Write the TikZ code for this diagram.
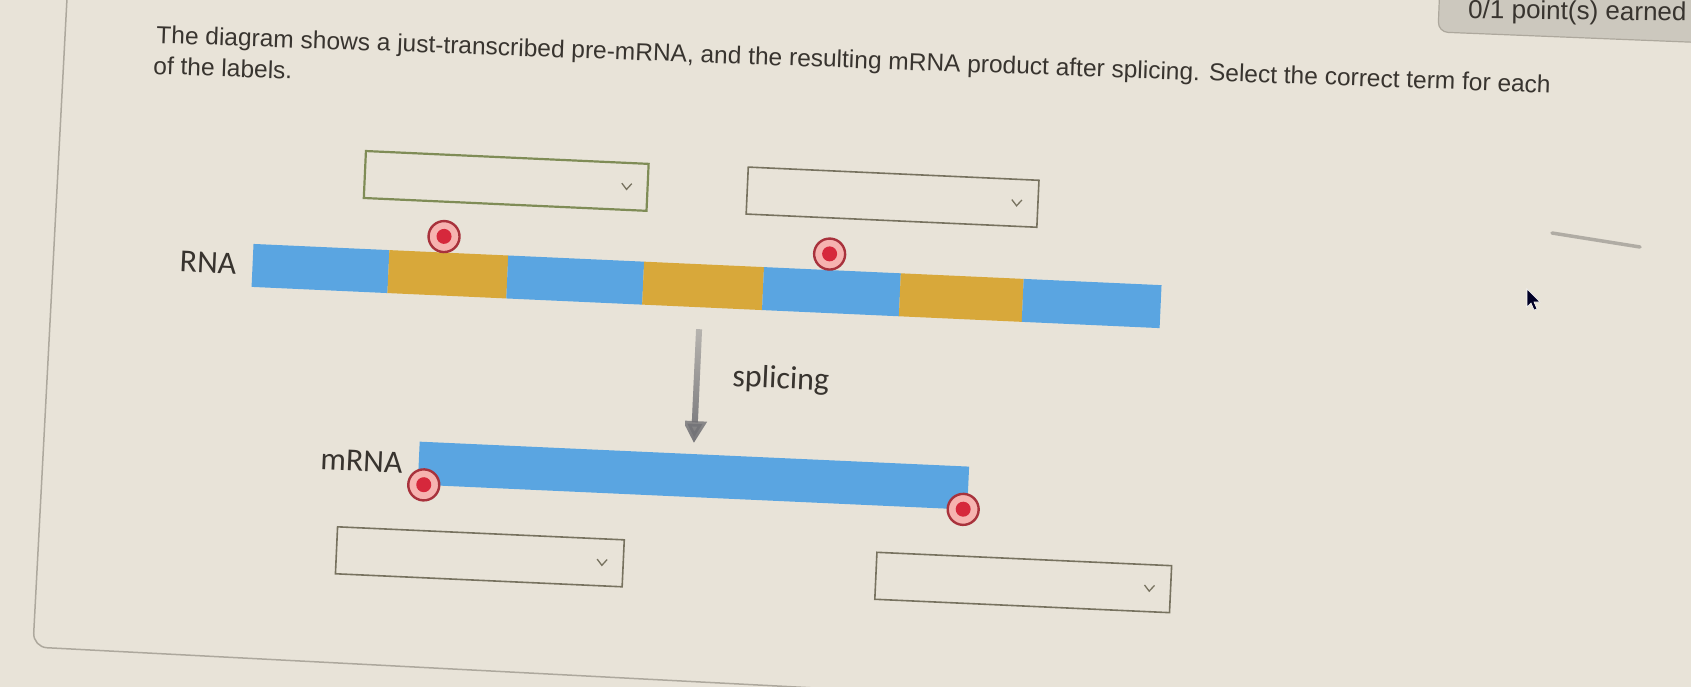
\documentclass[tikz,border=0pt]{standalone}
\usepackage{fontspec}
\setmainfont{Liberation Sans}
\newfontfamily\labelfont{Carlito}
\usetikzlibrary{arrows.meta}
\usetikzlibrary{positioning}
\usetikzlibrary{fadings}
\definecolor{screen}{HTML}{E8E3D8}
\definecolor{exonblue}{HTML}{5AA5E1}
\definecolor{introngold}{HTML}{D8A83A}
\definecolor{ringred}{HTML}{A8323C}
\definecolor{ringpink}{HTML}{F6B3B0}
\definecolor{dotred}{HTML}{D6283C}
\definecolor{boxline}{HTML}{77725F}
\definecolor{boxgreen}{HTML}{7F8C56}
\definecolor{inktext}{HTML}{38342F}
\definecolor{arrowgrey}{HTML}{727276}
\definecolor{panelline}{HTML}{ADA89D}
\tikzset{exon/.style = {fill=exonblue},
         intron/.style = {fill=introngold},
         dropbox/.style = {draw=boxline, line width=1.6pt, minimum height=47pt,
                           anchor=north west, inner sep=0pt},
         target/.style = {circle, draw=ringred, line width=2.4pt, fill=ringpink,
                          minimum size=31pt, inner sep=0pt,
                          path picture={\fill[dotred] (path picture bounding box.center) circle (7.5pt);}},
         lbl/.style = {font=\labelfont\fontsize{32}{38}\selectfont, text=inktext, inner sep=0pt},
         header/.style = {font=\fontsize{24.5}{30}\selectfont, text=inktext, inner sep=0pt,
                          anchor=base west},
         chev/.style = {draw=boxline, line width=1.3pt}}

\begin{document}
\begin{tikzpicture}[x=1pt, y=-1pt]
    \fill [screen] (0, 0) rectangle (1691, 687);
    \useasboundingbox (0, 0) rectangle (1691, 687);

    % page frame and score badge
    \draw [panelline, line width=1.5pt, rounded corners=14pt, rotate around={-3:(33,647)}]
      (33, -300) rectangle (2100, 647);
    \draw [draw=panelline, fill=black!12!screen, line width=1.2pt, rounded corners=10pt,
           rotate around={-2.3:(1438,32)}] (1438, -40) rectangle (1760, 32);
    \node [header, font=\fontsize{26}{30}\selectfont, rotate=-0.8] (score) at (1468, 18) {0/1 point(s) earned};

    \node [header, rotate=-2.06] (intro) at (156, 43)
      {The diagram shows a just-transcribed pre-mRNA, and the resulting mRNA product after splicing. Select the correct term for each};
    \node [header, rotate=-2.06] (intro2) at (153, 74) {of the labels.};

    \begin{scope}[rotate around={-2.6:(650,330)}, transform shape]
      % pre-mRNA
      \foreach \a/\b/\kind in {250/386/exon, 386/505/intron, 505/641/exon, 641/761/intron,
                               761/898/exon, 898/1021/intron, 1021/1159/exon}
        \fill [\kind] (\a, 262) rectangle (\b, 305);
      \node [lbl, anchor=east] (rna) at (234, 283) {RNA};
      \node [target] (t1) at (440, 246) {};
      \node [target] (t2) at (826, 246) {};

      % splicing step
      \coordinate (splice top) at (699, 327);
      \coordinate (splice end) at (699, 420);
      \coordinate (splice bot) at (699, 441);
      \draw [arrowgrey!40!screen, line width=6pt] (splice top) -- (splice end);
      \draw [arrowgrey, line width=6pt, -{Triangle[width=23pt, length=22pt]}, path fading=north]
        (splice top) -- (splice bot);
      \node [lbl] (splicing) at (783, 374) {splicing};

      % mRNA
      \fill [exon] (425, 452) rectangle (975, 495);
      \node [lbl, anchor=east] (mrna) at (409, 474) {mRNA};
      \node [target] (t3) at (431, 495) {};
      \node [target] (t4) at (971, 495) {};

      % answer boxes
      \node [dropbox, draw=boxgreen, line width=2.2pt, minimum width=283pt] (box1) at (357, 163) {};
      \node [dropbox, minimum width=291pt] (box2) at (740, 162) {};
      \node [dropbox, minimum width=287pt] (box3) at (346, 540) {};
      \node [dropbox, minimum width=295pt] (box4) at (886, 541) {};
      \foreach \b in {box1, box2, box3, box4}
        \draw [chev] ([shift={(-27,-3)}]\b.east) -- ([shift={(-22,3)}]\b.east) -- ([shift={(-17,-3)}]\b.east);
    \end{scope}

    % pointer and smudge on the screen
    \draw [black!40!screen, line width=3.5pt, line cap=round, opacity=0.6] (1552, 233) -- (1640, 247);
    \fill [black!85!blue, draw=white, line width=0.6pt]
      (1527, 289) -- ++(0, 18) -- ++(4, -4) -- ++(3, 7) -- ++(3, -1) -- ++(-3, -7) -- ++(6, 0) -- cycle;
\end{tikzpicture}
\end{document}
